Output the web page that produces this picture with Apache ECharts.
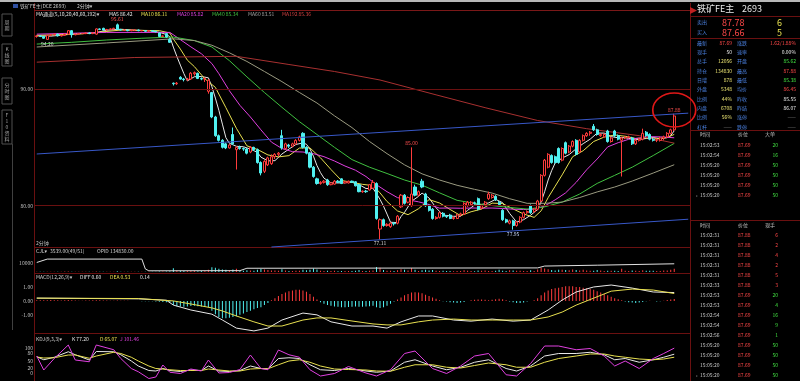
<!DOCTYPE html>
<html>
<head>
<meta charset="utf-8">
<title>铁矿FE主</title>
<script src="https://cdn.jsdelivr.net/npm/echarts@6/dist/echarts.min.js"></script>
<style>
html,body{margin:0;padding:0;background:#000;overflow:hidden;}
#chart{width:800px;height:381px;}
</style>
</head>
<body>
<div id="chart"></div>
<script>
const SLOTS = 187;
const categories = [];
for (let i = 0; i < SLOTS; i++) categories.push('K' + (i + 1));

const openP = [94.5,94.55,94.5,94.25,94.6,94.65,94.7,94.55,94.6,94.7,95.0,94.65,94.7,94.75,94.75,94.8,94.75,94.7,95.15,95.2,95.05,95.1,95.15,95.5,95.1,95.05,95.05,95.0,95.05,95.05,95.0,95.0,94.95,95.0,94.95,94.8,94.5,94.75,94.25,
90.5,90.45,91.0,90.85,90.8,90.85,91.3,91.35,90.9,90.85,89.8,89.7,87.6,86.0,85.6,85.3,84.95,86.1,84.8,85.0,84.9,84.85,84.6,85.0,84.8,83.7,82.95,83.5,83.6,84.2,84.4,86.0,84.9,85.2,85.1,85.3,85.6,86.2,85.0,84.5,83.3,82.3,81.9,82.0,82.2,81.8,81.85,82.1,82.3,81.95,81.95,82.1,82.05,81.8,81.2,81.25,81.35,81.5,81.9,78.0,78.8,78.3,78.2,78.5,78.5,79.9,80.9,80.3,80.0,81.6,80.9,82.1,81.0,80.0,79.7,78.9,79.0,79.35,79.1,79.2,78.9,78.9,79.2,79.3,80.0,80.1,80.25,80.6,79.8,80.1,80.6,80.7,80.8,80.3,79.6,78.8,78.5,78.7,78.3,78.6,79.0,79.4,80.0,79.5,79.7,80.4,82.6,83.3,84.3,84.2,84.9,83.9,85.4,84.6,85.1,85.6,84.6,85.6,86.0,86.2,86.8,86.5,86.0,85.9,86.4,85.5,86.4,86.0,85.6,85.8,85.85,85.8,85.3,85.6,85.7,86.3,86.1,85.7,85.6,85.6,85.8,85.9,86.2,86.5];
const highP = [94.6,94.6,94.55,94.65,94.7,94.75,94.75,94.65,94.75,95.05,95.05,94.75,94.8,94.8,94.85,94.85,94.85,95.2,95.2,95.25,95.15,95.2,95.25,95.61,95.15,95.1,95.1,95.1,95.1,95.1,95.05,95.05,95.05,95.05,95.0,94.85,94.6,94.8,94.35,
90.55,90.6,91.1,90.95,90.95,91.45,91.5,91.4,91.0,91.0,90.85,89.75,87.7,86.1,85.7,85.4,85.3,86.7,85.1,85.15,85.0,84.95,85.1,85.05,84.9,83.8,83.9,84.2,84.4,84.5,84.6,86.5,85.4,85.3,85.4,85.7,86.0,86.3,85.1,84.6,83.4,82.4,82.1,82.2,82.3,82.0,82.2,82.2,82.35,82.1,82.15,82.15,82.1,81.85,81.3,81.35,81.85,82.2,82.0,78.9,78.9,78.5,78.6,78.6,79.2,81.0,81.0,80.8,85.0,81.8,81.3,82.3,81.1,80.1,79.8,79.1,79.5,79.45,79.2,79.3,79.05,79.3,79.4,80.3,80.4,80.4,80.35,80.7,80.1,80.4,81.2,81.0,80.9,80.4,79.7,78.9,78.8,78.8,78.7,79.1,79.5,79.6,80.1,79.8,80.5,82.7,84.0,84.5,84.4,84.3,85.0,85.0,85.5,85.2,85.6,85.7,85.7,86.1,86.3,86.4,87.0,86.6,86.2,86.2,86.5,85.9,86.5,86.1,85.9,85.95,86.0,85.9,85.7,85.8,86.6,86.4,86.2,85.8,85.75,85.9,86.0,86.3,86.6,87.88];
const lowP = [94.4,94.45,94.3,94.2,94.55,94.6,94.5,94.5,94.55,94.65,94.4,94.6,94.65,94.7,94.7,94.7,94.7,94.65,95.05,95.0,95.0,95.05,95.1,95.05,95.0,95.0,94.95,94.95,95.0,94.95,94.95,94.9,94.9,94.9,94.85,94.45,94.45,94.4,93.95,
90.3,90.35,90.8,90.65,90.7,90.8,91.15,90.85,90.75,90.6,89.6,87.5,85.9,85.5,84.9,84.85,84.9,85.2,83.1,84.8,84.7,84.4,84.5,84.7,83.6,82.6,82.8,83.4,83.5,84.0,84.2,84.8,84.8,84.95,85.0,85.2,85.5,84.9,84.4,83.2,82.4,81.8,81.8,81.9,81.7,81.75,81.8,81.95,81.85,81.9,81.9,81.95,81.65,81.15,81.1,81.1,81.3,81.45,78.8,77.11,78.2,78.2,78.1,78.3,78.4,79.8,80.1,80.2,79.9,80.8,80.8,81.5,79.9,79.5,78.8,78.8,78.9,79.0,78.95,78.85,78.8,78.85,79.1,79.2,79.9,80.0,80.1,79.6,79.7,80.0,80.5,80.6,80.4,80.0,78.7,78.5,78.4,77.95,78.2,78.5,78.9,79.3,79.3,79.4,79.6,80.3,82.5,83.2,83.6,83.6,83.6,83.8,84.4,84.5,85.0,84.3,84.5,85.5,85.9,86.0,86.4,86.0,85.9,85.8,85.4,85.4,85.9,85.6,82.5,85.7,85.75,85.2,85.2,85.5,85.6,85.9,85.6,85.5,85.45,85.5,85.6,85.8,86.1,86.4];
const closeP = [94.55,94.5,94.35,94.6,94.65,94.7,94.55,94.6,94.7,95.0,94.65,94.7,94.75,94.75,94.8,94.75,94.8,95.15,95.1,95.05,95.1,95.15,95.2,95.1,95.05,95.05,95.0,95.05,95.05,95.0,95.0,94.95,95.0,94.95,94.9,94.5,94.55,94.45,94.0,
90.45,90.5,90.85,90.8,90.85,91.35,91.4,90.9,90.85,90.9,90.75,87.6,86.0,85.6,85.0,84.95,85.2,85.3,85.0,84.9,84.85,84.5,85.0,84.8,83.7,82.8,83.8,84.1,84.2,84.4,84.5,84.95,85.3,85.1,85.3,85.6,85.9,85.0,84.5,83.3,82.5,81.9,82.0,82.1,81.8,81.95,82.1,82.0,81.9,82.05,82.1,82.0,81.7,81.2,81.25,81.2,81.8,82.0,78.9,78.8,78.3,78.4,78.5,78.45,79.1,80.9,80.2,80.7,81.0,80.9,81.2,81.6,80.0,79.6,78.9,79.0,79.4,79.1,79.05,78.9,79.0,79.2,79.3,80.2,80.3,80.3,80.2,79.7,80.0,80.3,81.0,80.9,80.5,80.1,78.8,78.6,78.7,78.3,78.6,79.0,79.4,79.5,79.4,79.7,80.4,82.6,83.9,84.4,83.7,83.7,83.7,84.9,84.5,85.1,85.5,84.4,85.6,86.0,86.2,86.3,86.5,86.1,86.1,86.1,85.5,85.8,86.0,85.7,85.8,85.85,85.9,85.3,85.6,85.7,86.2,86.0,85.7,85.6,85.65,85.8,85.9,86.2,86.5,87.69];

const volume = [300,250,200,400,250,300,350,200,500,450,300,200,250,200,300,250,200,600,300,350,200,250,300,700,300,200,250,200,250,200,150,200,250,200,300,500,450,650,900,
4200,1800,1500,1200,1100,1500,1300,900,1000,1100,2500,5200,4800,3500,2800,2400,1800,2900,3600,1500,1300,1900,1600,1400,2600,3200,
2800,2100,1700,1600,1500,3000,1700,1200,1100,1400,1300,2600,1900,2500,3800,2700,
1300,1200,1500,1100,1400,900,1200,1000,1100,1000,1500,2200,1200,1000,1500,1800,5600,4800,2200,1500,
1300,1100,1900,3100,2400,1800,4500,2500,1200,1900,2600,1800,2200,1500,1200,
1400,1000,1200,900,1200,1000,1900,1300,1100,900,1800,1300,1700,1200,1000,1400,2500,1500,1200,1900,1600,1400,1300,1100,1200,1900,1200,
2800,4800,3900,3100,2200,1800,2600,2400,2300,1900,2800,2100,1800,2500,1700,1500,1300,2200,1800,1200,1500,1300,
1500,1200,3600,1500,1200,1600,1300,1100,2000,1400,1300,1500,1200,1100,1600,1800,2400,3539];
const openInterest = [[0,135600],[3,137600],[30,137600],[31,131800],[32,130700],[58,130800],[60,132200],[143,132400],[145,133500],[160,134000],[182,134830]];

const ma5 = [[0,94.55],[4,94.53],[8,94.64],[12,94.76],[16,94.77],[20,95.04],[24,95.12],[28,95.04],[32,95.0],[35,94.86],[37,94.67],[38,94.48],[39,93.59],[40,92.79],[41,92.05],[42,91.32],[43,90.69],[45,91.05],[47,91.07],[49,90.96],[50,90.2],[51,89.22],[52,88.17],[53,86.99],[54,85.83],[55,85.35],[57,85.09],[59,85.05],[61,84.85],[63,84.57],[64,84.16],[66,83.84],[68,83.86],[70,84.43],[72,84.85],[74,85.25],[76,85.38],[77,85.26],[78,84.86],[79,84.24],[80,83.44],[81,82.84],[82,82.36],[84,81.95],[87,81.95],[90,82.01],[92,81.81],[94,81.47],[96,81.49],[97,81.03],[98,80.54],[99,79.96],[100,79.28],[101,78.58],[103,78.55],[104,79.07],[105,79.43],[107,80.38],[109,80.8],[110,81.08],[112,80.66],[114,79.82],[116,79.2],[119,79.09],[121,79.09],[123,79.6],[125,80.06],[127,80.1],[129,80.24],[131,80.54],[133,80.26],[135,79.34],[137,78.6],[139,78.8],[141,79.18],[143,79.68],[144,80.32],[145,81.2],[146,82.2],[147,83.0],[148,83.66],[150,84.08],[152,84.38],[154,84.88],[156,85.32],[158,85.7],[160,86.22],[162,86.22],[164,85.92],[166,85.82],[168,85.83],[170,85.71],[172,85.67],[174,85.76],[176,85.84],[178,85.75],[180,85.83],[181,86.01],[182,86.42]];
const ma10 = [[0,94.6],[12,94.7],[24,95.05],[35,95.0],[38,94.8],[39,94.28],[41,93.42],[43,92.47],[45,91.92],[48,90.87],[51,90.14],[54,88.4],[57,86.63],[60,85.13],[63,84.82],[66,84.35],[69,84.18],[72,84.29],[75,84.94],[78,84.95],[81,84.11],[84,83.1],[87,82.16],[90,82.0],[93,81.83],[96,81.72],[98,81.1],[100,80.36],[103,79.55],[106,79.23],[109,79.74],[112,80.52],[115,80.23],[118,79.68],[121,79.15],[124,79.48],[127,79.71],[130,80.22],[133,80.18],[136,79.72],[139,79.29],[142,79.0],[144,79.56],[146,80.69],[148,81.67],[150,82.64],[153,84.2],[156,84.71],[159,85.5],[162,85.88],[165,86.06],[168,85.95],[171,85.76],[174,85.81],[177,85.75],[180,85.84],[182,86.11]];
const ma20 = [[0,94.7],[20,94.85],[38,94.85],[41,94.23],[44,93.61],[47,93.02],[50,92.18],[52,91.31],[55,89.85],[58,88.6],[61,87.6],[64,86.5],[67,85.45],[70,84.9],[73,84.63],[76,84.6],[79,84.46],[82,84.2],[85,83.83],[88,83.4],[91,83.04],[94,82.5],[97,81.79],[100,81.2],[103,80.69],[106,80.5],[109,80.33],[112,80.1],[115,79.79],[118,79.8],[121,79.78],[124,79.8],[127,79.79],[130,79.8],[133,79.76],[136,79.7],[139,79.67],[142,79.7],[145,79.97],[148,80.5],[151,81.1],[154,82.0],[157,83.08],[160,84.0],[163,85.04],[166,85.4],[169,85.69],[172,85.8],[175,85.92],[178,85.9],[182,85.82]];
const ma40 = [[0,93.85],[10,94.0],[20,94.2],[30,94.35],[39,94.45],[45,94.15],[50,93.6],[55,92.43],[60,91.04],[65,89.7],[70,88.43],[75,87.2],[80,86.1],[85,85.0],[90,83.95],[95,83.3],[100,82.76],[105,82.2],[110,81.76],[115,81.1],[120,80.46],[125,80.2],[130,80.01],[135,79.85],[140,79.71],[145,79.9],[150,80.31],[155,81.0],[160,81.91],[165,82.6],[170,83.3],[176,84.3],[182,85.34]];
const ma60 = [[0,93.6],[20,93.95],[39,94.3],[45,94.15],[50,93.75],[55,93.1],[60,92.36],[65,91.5],[70,90.63],[75,89.7],[80,88.8],[85,87.7],[90,86.69],[95,85.5],[100,84.46],[105,83.5],[110,82.73],[115,82.2],[120,81.75],[125,81.4],[130,81.08],[135,80.6],[140,80.2],[145,80.2],[150,80.31],[155,80.7],[160,81.18],[165,81.6],[170,82.11],[176,82.8],[182,83.51]];
const ma192 = [[0,92.3],[28,92.7],[57,92.8],[72,92.1],[85,91.5],[98,90.77],[114,89.5],[128,88.4],[143,87.3],[157,86.6],[172,86.0],[182,85.36]];

const macdHist = [0.05,0.05,0.04,0.05,0.06,0.05,0.04,0.03,0.05,0.06,0.04,0.03,0.02,0.02,0.03,0.03,0.04,0.05,0.04,0.03,0.03,0.02,0.02,0.03,0.02,0.01,0.01,0.0,-0.01,-0.01,-0.02,-0.02,-0.03,-0.03,-0.04,-0.06,-0.07,-0.09,-0.12,
-0.3,-0.38,-0.4,-0.42,-0.4,-0.36,-0.34,-0.38,-0.4,-0.42,-0.45,-0.7,-0.95,-1.15,-1.25,-1.25,-1.2,-1.15,-1.1,-1.0,-0.9,-0.8,-0.7,-0.6,-0.5,-0.45,
-0.3,-0.15,0.05,0.2,0.35,0.5,0.6,0.7,0.75,0.8,0.8,0.75,0.65,0.5,0.3,0.1,
-0.1,-0.2,-0.3,-0.35,-0.4,-0.42,-0.45,-0.45,-0.43,-0.42,-0.4,-0.42,-0.42,-0.4,-0.38,-0.35,-0.45,-0.5,-0.45,-0.35,
-0.2,-0.05,0.1,0.25,0.4,0.5,0.6,0.62,0.6,0.55,0.45,0.35,0.25,0.15,0.05,
-0.02,-0.05,-0.1,-0.12,-0.15,-0.12,-0.08,0.0,0.05,0.08,0.1,0.1,0.08,0.05,0.08,0.12,0.15,0.12,0.05,-0.05,-0.1,-0.15,-0.15,-0.12,-0.05,0.0,0.05,
0.2,0.4,0.6,0.75,0.85,0.9,0.95,1.0,1.05,1.05,1.05,1.0,1.0,0.95,0.9,0.85,0.8,0.7,0.6,0.5,0.4,0.3,
0.2,0.12,0.05,-0.05,-0.1,-0.12,-0.15,-0.12,-0.08,-0.02,0.02,0.0,-0.04,-0.02,0.02,0.06,0.1,0.14];
const macdDiff = [[0,0.2],[29,0.15],[37,0.05],[39,-0.3],[44,-0.65],[50,-0.95],[53,-1.37],[57,-1.95],[62,-2.15],[66,-1.95],[70,-1.37],[76,-0.87],[80,-1.0],[84,-1.5],[90,-1.8],[96,-1.8],[100,-1.95],[104,-1.5],[109,-1.08],[113,-1.08],[119,-1.37],[124,-1.45],[130,-1.3],[136,-1.45],[141,-1.37],[146,-0.65],[150,0.06],[154,0.64],[159,1.0],[164,1.14],[170,0.92],[176,0.64],[182,0.60]];
const macdDea = [[0,0.2],[29,0.17],[39,0.0],[44,-0.22],[50,-0.5],[53,-0.72],[57,-1.08],[62,-1.5],[66,-1.8],[70,-1.8],[76,-1.37],[80,-1.22],[84,-1.22],[90,-1.44],[96,-1.65],[100,-1.72],[104,-1.72],[109,-1.5],[113,-1.37],[119,-1.3],[124,-1.37],[130,-1.37],[136,-1.37],[141,-1.37],[146,-1.15],[150,-0.8],[154,-0.3],[159,0.2],[164,0.7],[170,0.85],[176,0.78],[182,0.53]];

const kdjK = [[0,67],[2,55],[5,65],[9,87],[11,75],[15,54],[17,88],[22,87],[24,75],[27,50],[29,30],[32,12],[34,10],[36,20],[38,12],[41,8],[44,14],[47,12],[49,30],[52,10],[55,8],[58,12],[61,30],[64,20],[66,18],[69,60],[72,63],[75,60],[78,35],[81,15],[85,12],[89,20],[94,10],[97,5],[101,10],[105,45],[108,55],[113,30],[117,15],[121,25],[125,45],[129,55],[134,20],[137,10],[141,30],[145,70],[149,80],[154,80],[158,85],[162,75],[165,55],[168,60],[172,45],[176,55],[179,65],[182,77.2]];
const kdjD = [[0,66],[2,62],[5,63],[9,74],[11,74],[15,61],[17,70],[22,85],[24,80],[27,65],[29,50],[32,30],[34,20],[36,18],[38,15],[41,12],[44,12],[47,12],[49,18],[52,14],[55,10],[58,10],[61,18],[64,20],[66,19],[69,35],[72,50],[75,55],[78,45],[81,30],[85,18],[89,16],[94,14],[97,10],[101,9],[105,25],[108,35],[113,35],[117,25],[121,22],[125,32],[129,42],[134,35],[137,25],[141,25],[145,45],[149,60],[154,70],[158,78],[162,78],[165,70],[168,65],[172,58],[176,55],[179,58],[182,65.07]];
const kdjJ = [[0,70],[2,14],[5,60],[9,114],[11,54],[15,47],[17,114],[22,95],[24,60],[27,20],[29,7],[32,-20],[34,-14],[36,34],[38,5],[41,0],[44,18],[47,10],[49,54],[52,2],[55,4],[58,16],[61,74],[64,20],[66,15],[69,94],[72,75],[75,65],[78,15],[81,-10],[85,0],[89,28],[94,2],[97,-10],[101,15],[105,80],[108,90],[113,20],[117,0],[121,30],[125,70],[129,80],[134,-5],[137,-10],[141,40],[145,110],[149,110],[154,95],[158,100],[162,70],[165,30],[168,50],[172,20],[176,60],[179,80],[182,101.46]];

const priceTicks = [80, 90];
const volTicks = [10000];
const macdTicks = [-1, 0, 1];
const kdjTicks = [0, 20, 50, 80, 100];

const quoteRows = [
  ['最新','87.69','涨跌','1.62/1.88%'],
  ['现手','50','速率','0.00%'],
  ['总手','12056','开盘','85.62'],
  ['持仓','134830','最高','87.88'],
  ['日增','878','最低','85.38'],
  ['外盘','5348','均价','86.45'],
  ['比例','44%','昨收','85.55'],
  ['内盘','6708','昨结','86.07'],
  ['比例','56%','涨停','——'],
  ['杠杆','——','跌停','——']
];
const quoteColors = [
  ['#ff4848','#ff4848'],['#e8e8e8','#e8e8e8'],['#e8e070','#40e040'],['#e8e070','#ff4848'],['#e8e070','#40e040'],
  ['#e8e070','#ff4848'],['#e8e070','#e8e8e8'],['#e8e070','#e8e8e8'],['#e8e070','#909090'],['#909090','#909090']
];
const bigOrders = [
  ['15:02:53','87.69','20'],['15:02:54','87.69','16'],['15:05:20','87.69','50'],
  ['15:05:20','87.69','50'],['15:05:20','87.69','50'],['15:05:20','87.69','50']
];
const tradeTicks = [
  ['15:02:31','87.88','6'],['15:02:31','87.88','2'],['15:02:31','87.88','4'],['15:02:31','87.88','2'],
  ['15:02:31','87.88','5'],['15:02:33','87.88','3'],['15:02:53','87.69','20'],['15:02:53','87.69','4'],
  ['15:02:54','87.69','16'],['15:02:54','87.69','9'],['15:02:56','87.69','1'],['15:05:20','87.69','50'],
  ['15:05:20','87.69','50'],['15:05:20','87.69','50'],['15:05:20','87.69','50']
];

const FONT = '"Noto Sans CJK SC","DejaVu Sans",sans-serif';
const UP = '#ff3c3c', DOWN = '#50f0f0';
const RED_DARK = '#6a1010';

const candleData = openP.map((o, i) => [o, closeP[i], lowP[i], highP[i]]);
const volData = volume.map((v, i) => ({value: v, itemStyle: {color: closeP[i] >= openP[i] ? UP : DOWN}}));
const histData = macdHist.map(v => ({value: v, itemStyle: {color: v >= 0 ? UP : DOWN}}));

function txt(x, y, s, color, size, align) {
  return {type: 'text', x: x, y: y, silent: true,
    style: {text: s, fill: color, fontSize: size || 5, fontFamily: FONT, align: align || 'left', verticalAlign: 'middle'}};
}
function ln(x1, y1, x2, y2, c) {
  return {type: 'line', silent: true, shape: {x1: x1, y1: y1, x2: x2, y2: y2}, style: {stroke: c, lineWidth: 1}};
}

const graphics = [];
graphics.push({type: 'rect', silent: true, shape: {x: 0, y: 0, width: 800, height: 2}, style: {fill: '#b8b8b8'}});
graphics.push(ln(34.5, 3, 34.5, 381, RED_DARK));
graphics.push(ln(690.5, 3, 690.5, 381, RED_DARK));
graphics.push(ln(34, 10.5, 690, 10.5, '#7a1818'));
graphics.push({type: 'polygon', silent: true, shape: {points: [[690, 7], [697, 10.5], [690, 14]]}, style: {fill: '#c02020'}});
graphics.push(ln(34, 247.5, 690, 247.5, RED_DARK));
graphics.push(ln(34, 273.5, 690, 273.5, RED_DARK));
graphics.push(ln(34, 333.5, 690, 333.5, RED_DARK));
graphics.push({type: 'rect', silent: true, shape: {x: 13, y: 4, width: 5, height: 4}, style: {fill: '#3050a0'}});
graphics.push(txt(20, 6, '铁矿FE主(DCE 2693)', '#d0d0d0', 5));
graphics.push(txt(77, 6, '2分钟▾', '#d0d0d0', 5));
graphics.push(txt(36, 14, 'MA通道(5,10,20,40,60,192)▾', '#e0e0e0', 5));
graphics.push(txt(109, 14, 'MA5 86.42', '#e8e8e8', 5));
graphics.push(txt(141, 14, 'MA10 86.11', '#e8e050', 5));
graphics.push(txt(177, 14, 'MA20 85.82', '#e040e0', 5));
graphics.push(txt(212, 14, 'MA40 85.34', '#40c040', 5));
graphics.push(txt(248, 14, 'MA60 83.51', '#a0a0a0', 5));
graphics.push(txt(282, 14, 'MA192 85.36', '#d04040', 5));
graphics.push(txt(36, 243, '2分钟', '#c0c0c0', 5));
graphics.push(txt(36, 251, 'CJL▾', '#d0d0d0', 5));
graphics.push(txt(50, 251, '3539.00(49/51)', '#d0d0d0', 5));
graphics.push(txt(97, 251, 'OPID 134830.00', '#d0d0d0', 5));
graphics.push(txt(36, 277, 'MACD(12,26,9)▾', '#d0d0d0', 5));
graphics.push(txt(80, 277, 'DIFF 0.60', '#e8e8e8', 5));
graphics.push(txt(110, 277, 'DEA 0.53', '#e8e050', 5));
graphics.push(txt(140, 277, '0.14', '#e8e8e8', 5));
graphics.push(txt(36, 339, 'KDJ(9,3,3)▾', '#d0d0d0', 5));
graphics.push(txt(72, 339, 'K 77.20', '#e8e8e8', 5));
graphics.push(txt(100, 339, 'D 65.07', '#e8e050', 5));
graphics.push(txt(120, 339, 'J 101.46', '#e040e0', 5));
const tabs = [['周期', 14, 36], ['K线图', 44, 66], ['分时图', 78, 104], ['F10资料', 110, 144]];
tabs.forEach(t => {
  graphics.push({type: 'rect', silent: true, shape: {x: 2, y: t[1], width: 10, height: t[2] - t[1]}, style: {fill: 'none', stroke: '#505050', lineWidth: 1}});
  graphics.push({type: 'text', silent: true, x: 7, y: (t[1] + t[2]) / 2, style: {text: t[0].split('').join('\n'), fill: '#a0a0a0', fontSize: 5, fontFamily: FONT, align: 'center', verticalAlign: 'middle', lineHeight: 6}});
});
graphics.push(ln(12.5, 144, 12.5, 330, '#404040'));
graphics.push(txt(697, 9, '铁矿FE主', '#e8e8e8', 9));
graphics.push(txt(742, 9, '2693', '#e8e8e8', 9));
graphics.push(ln(690, 16.5, 800, 16.5, RED_DARK));
graphics.push(txt(697, 22.5, '卖出', '#4a80e0', 5));
graphics.push(txt(722, 22.5, '87.78', '#ff4848', 9));
graphics.push(txt(777, 22.5, '6', '#e8e050', 9));
graphics.push(txt(697, 32.5, '买入', '#4a80e0', 5));
graphics.push(txt(722, 32.5, '87.66', '#ff4848', 9));
graphics.push(txt(777, 32.5, '5', '#e8e050', 9));
graphics.push(ln(690, 38.5, 800, 38.5, RED_DARK));
quoteRows.forEach((r, k) => {
  const y = 42.7 + k * 9.35;
  graphics.push(txt(697, y, r[0], '#4a80e0', 5));
  graphics.push(txt(732, y, r[1], quoteColors[k][0], 5, 'right'));
  graphics.push(txt(737, y, r[2], '#4a80e0', 5));
  graphics.push(txt(796, y, r[3], quoteColors[k][1], 5, 'right'));
});
graphics.push(ln(690, 130.5, 800, 130.5, RED_DARK));
graphics.push(txt(700, 134.5, '时间', '#c0c0c0', 5));
graphics.push(txt(738, 134.5, '价位', '#c0c0c0', 5));
graphics.push(txt(765, 134.5, '大单', '#c0c0c0', 5));
bigOrders.forEach((r, k) => {
  const y = 145 + k * 10;
  if (k === bigOrders.length - 1) graphics.push(txt(696, y, '›', '#c0c0c0', 5));
  graphics.push(txt(700, y, r[0], '#c8c8c8', 5));
  graphics.push(txt(738, y, r[1], '#ff4848', 5));
  graphics.push(txt(778, y, r[2], '#40e040', 5, 'right'));
});
graphics.push(ln(690, 220.5, 800, 220.5, RED_DARK));
graphics.push(txt(700, 225.5, '时间', '#c0c0c0', 5));
graphics.push(txt(738, 225.5, '价位', '#c0c0c0', 5));
graphics.push(txt(765, 225.5, '现手', '#c0c0c0', 5));
tradeTicks.forEach((r, k) => {
  const y = 235 + k * 10;
  if (k === tradeTicks.length - 1) graphics.push(txt(696, y, '›', '#c0c0c0', 5));
  graphics.push(txt(700, y, r[0], '#c8c8c8', 5));
  graphics.push(txt(738, y, r[1], '#ff4848', 5));
  graphics.push(txt(778, y, r[2], r[1] === '87.88' ? '#ff4848' : '#40e040', 5, 'right'));
});

function xAx(g) {
  return {type: 'category', gridIndex: g, data: categories, boundaryGap: true,
    axisLine: {show: false}, axisTick: {show: false}, axisLabel: {show: false}, splitLine: {show: false}};
}
function yAx(g, min, max, ticks, fmt, show) {
  return {type: 'value', gridIndex: g, min: min, max: max, scale: true,
    axisLine: {show: false}, axisTick: {show: false}, splitLine: {show: false},
    axisLabel: {show: show !== false, customValues: ticks, formatter: fmt, color: '#c0c0c0', fontSize: 5, fontFamily: FONT, margin: 2}};
}
function maLine(name, data, color) {
  return {name: name, type: 'line', xAxisIndex: 0, yAxisIndex: 0, data: data, symbol: 'none',
    lineStyle: {color: color, width: 1}, silent: true, z: 3};
}
function tag(i, v, text, color, pos) {
  return {coord: [i, v], symbol: 'circle', symbolSize: 1, itemStyle: {color: 'rgba(0,0,0,0)'},
    label: {show: true, formatter: text, position: pos, distance: 1, color: color, fontSize: 5, fontFamily: FONT}};
}

const option = {
  backgroundColor: '#000000',
  animation: false,
  graphic: graphics,
  grid: [
    {left: 35, width: 655, top: 10, height: 237},
    {left: 35, width: 655, top: 255, height: 17},
    {left: 35, width: 655, top: 280, height: 53},
    {left: 35, width: 655, top: 343, height: 38}
  ],
  xAxis: [xAx(0), xAx(1), xAx(2), xAx(3)],
  yAxis: [
    yAx(0, 76.46, 96.77, priceTicks, v => v.toFixed(2)),
    yAx(1, 0, 18900, volTicks, v => String(v)),
    yAx(1, 130000, 140000, [], v => '', false),
    yAx(2, -2.3, 1.5, macdTicks, v => v.toFixed(2)),
    yAx(3, -30, 122, kdjTicks, v => String(v))
  ],
  series: [
    {type: 'candlestick', name: 'K', xAxisIndex: 0, yAxisIndex: 0, data: candleData, barWidth: 2.6,
      itemStyle: {color: '#000000', color0: DOWN, borderColor: UP, borderColor0: DOWN, borderWidth: 1}, z: 4,
      markLine: {silent: true, symbol: ['none', 'none'], label: {show: false},
        data: [
          {yAxis: 90, lineStyle: {color: RED_DARK, width: 1, type: 'solid'}},
          {yAxis: 80, lineStyle: {color: RED_DARK, width: 1, type: 'solid'}},
          [{coord: [0, 84.43], lineStyle: {color: '#3858c8', width: 1, type: 'solid'}}, {coord: [186, 87.93]}],
          [{coord: [67, 76.46], lineStyle: {color: '#3858c8', width: 1, type: 'solid'}}, {coord: [186, 78.84]}]
        ]},
      markPoint: {silent: true,
        data: [
          tag(23, 95.61, '95.61', '#ff5050', 'top'),
          tag(3, 94.2, '94.20', '#d8d8d8', 'bottom'),
          tag(107, 85.0, '85.00', '#ff5050', 'top'),
          tag(98, 77.11, '77.11', '#d8d8d8', 'bottom'),
          tag(136, 77.95, '77.95', '#c8d8ff', 'bottom'),
          tag(182, 87.88, '87.88', '#ff5050', 'top'),
          {coord: [182, 88.2], symbol: 'circle', symbolSize: [43, 34],
            itemStyle: {color: 'rgba(0,0,0,0)', borderColor: '#e01818', borderWidth: 1.5}, label: {show: false}}
        ]}
    },
    maLine('MA5', ma5, '#e8e8e8'),
    maLine('MA10', ma10, '#e8e050'),
    maLine('MA20', ma20, '#e040e0'),
    maLine('MA40', ma40, '#40c040'),
    maLine('MA60', ma60, '#9a9a80'),
    maLine('MA192', ma192, '#a83030'),
    {type: 'bar', name: 'CJL', xAxisIndex: 1, yAxisIndex: 1, data: volData, barWidth: 1, silent: true},
    {type: 'line', name: 'OPID', xAxisIndex: 1, yAxisIndex: 2, data: openInterest, symbol: 'none', lineStyle: {color: '#e0e0e0', width: 1}, silent: true},
    {type: 'bar', name: 'MACD', xAxisIndex: 2, yAxisIndex: 3, data: histData, barWidth: 1, silent: true},
    {type: 'line', name: 'DIFF', xAxisIndex: 2, yAxisIndex: 3, data: macdDiff, symbol: 'none', lineStyle: {color: '#e8e8e8', width: 1}, silent: true},
    {type: 'line', name: 'DEA', xAxisIndex: 2, yAxisIndex: 3, data: macdDea, symbol: 'none', lineStyle: {color: '#e8e050', width: 1}, silent: true},
    {type: 'line', name: 'K', xAxisIndex: 3, yAxisIndex: 4, data: kdjK, symbol: 'none', lineStyle: {color: '#e8e8e8', width: 1}, silent: true},
    {type: 'line', name: 'D', xAxisIndex: 3, yAxisIndex: 4, data: kdjD, symbol: 'none', lineStyle: {color: '#e8e050', width: 1}, silent: true},
    {type: 'line', name: 'J', xAxisIndex: 3, yAxisIndex: 4, data: kdjJ, symbol: 'none', lineStyle: {color: '#e040e0', width: 1}, silent: true}
  ]
};

const chart = echarts.init(document.getElementById('chart'), null, {renderer: 'canvas'});
chart.setOption(option);
</script>
</body>
</html>
